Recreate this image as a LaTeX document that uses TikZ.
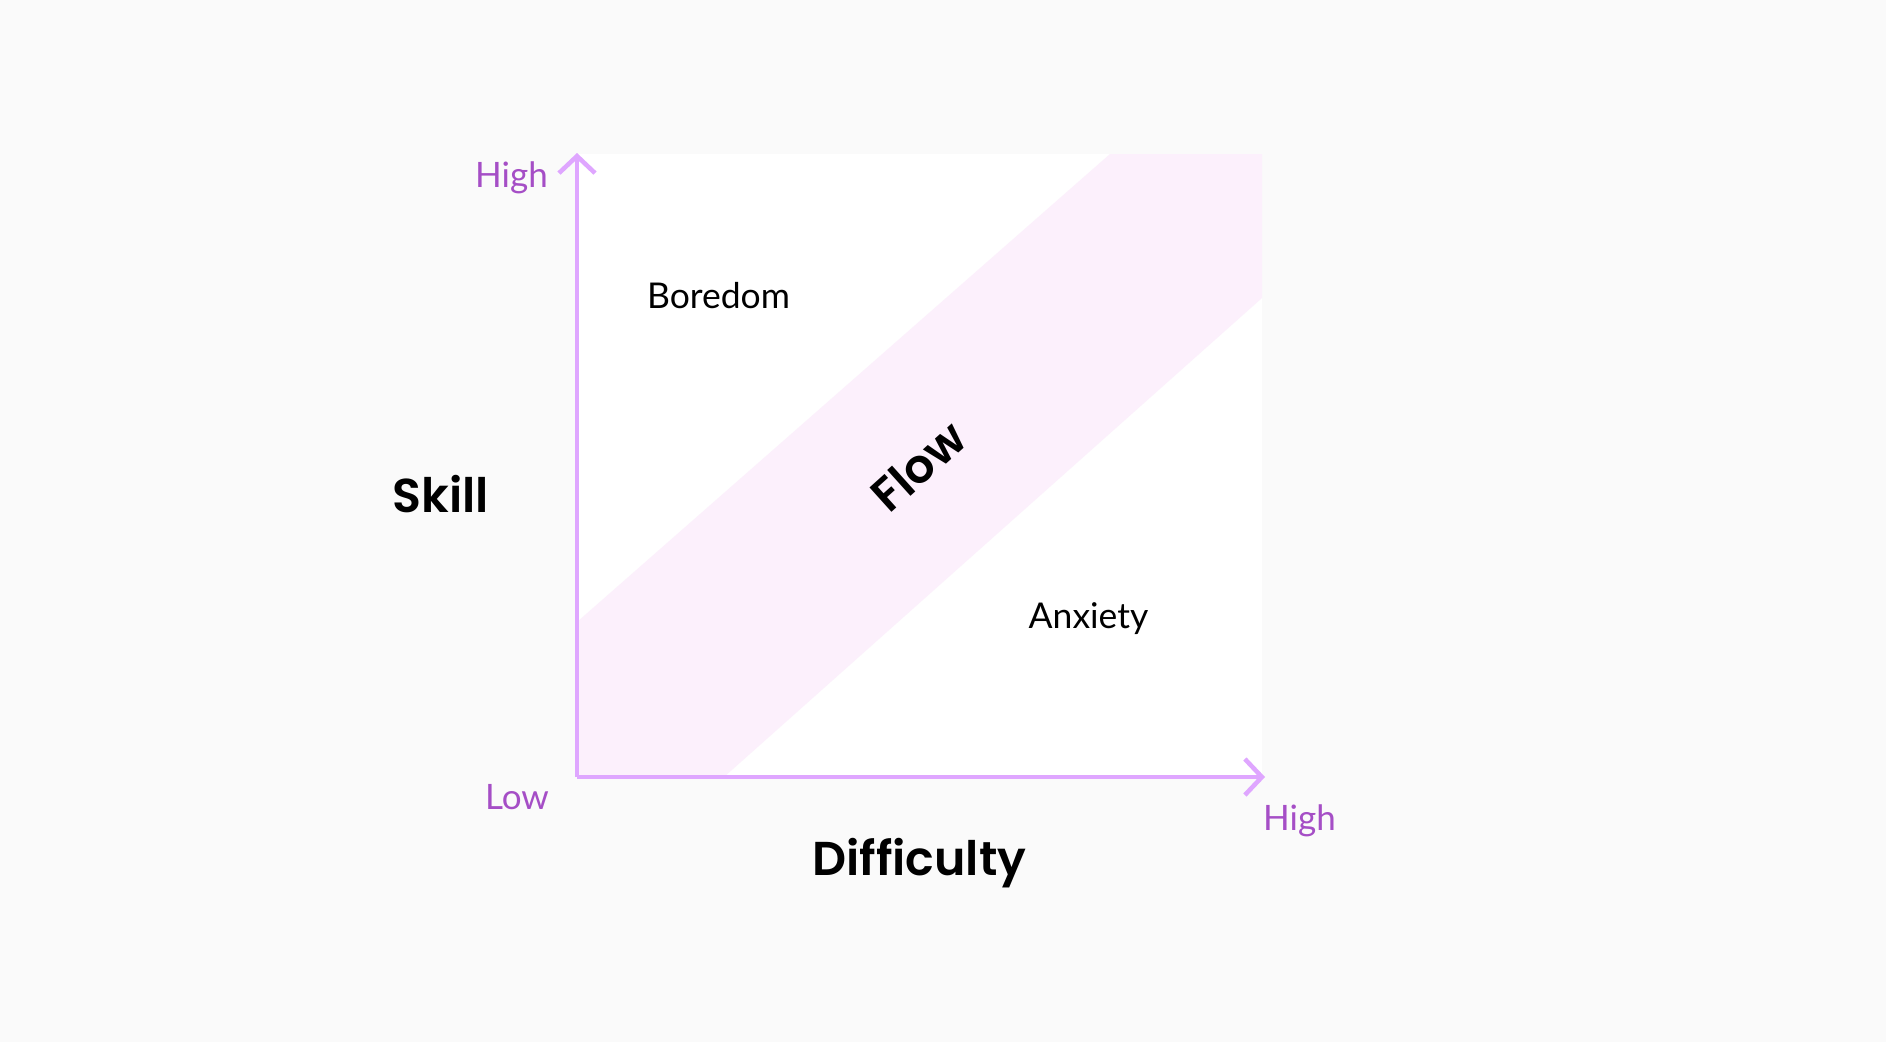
\documentclass[tikz,border=0pt]{standalone}
\usepackage{fontspec}
\usetikzlibrary{arrows.meta}
\newfontfamily\latofont{Lato}
\newfontfamily\popfont{Poppins}[BoldFont={Poppins SemiBold}]
\definecolor{bgc}{HTML}{FAFAFA}
\definecolor{bandc}{HTML}{FCF0FC}
\definecolor{axisc}{HTML}{DFA6FF}
\definecolor{labc}{HTML}{A54EC6}
\begin{document}
\begin{tikzpicture}[x=1pt,y=-1pt,
  axisline/.style={draw=axisc,line width=4.5pt,-{Straight Barb[length=17pt,width=36pt,line width=4.5pt]}},
  ticklab/.style={inner sep=0pt,anchor=base,text=labc,font=\latofont\fontsize{35}{40}\selectfont},
  zonelab/.style={inner sep=0pt,anchor=base,text=black,font=\latofont\fontsize{35.5}{40}\selectfont},
  axislab/.style={inner sep=0pt,anchor=base,text=black,font=\popfont\bfseries\fontsize{47.5}{52}\selectfont}]
\fill[bgc] (0,0) rectangle (1886,1042);
\useasboundingbox (0,0) rectangle (1886,1042);
\coordinate (O) at (577,777);
\coordinate (Ytip) at (577,153);
\coordinate (Xtip) at (1265,777);
\fill[white] (577,154) rectangle (1262,777);
\fill[bandc] (577,622) -- (1110,154) -- (1262,154) -- (1262,298) -- (724,777) -- (577,777) -- cycle;
\draw[axisline] (O) -- (Ytip);
\draw[axisline] (O) -- (Xtip);
\node[ticklab] (yhigh) at (511.5,187) {High};
\node[ticklab] (xlow) at (517,809) {Low};
\node[ticklab] (xhigh) at (1299.5,830) {High};
\node[zonelab] (bored) at (718.5,308) {Boredom};
\node[zonelab] (anx) at (1088.5,628) {Anxiety};
\node[axislab] (skill) at (441,512) {Skill};
\node[axislab] (diff) at (919.5,875) {Difficulty};
\node[inner sep=0pt,text=black,font=\popfont\bfseries\fontsize{47}{52}\selectfont,rotate=42] (flow) at (918,466) {Flow};
\end{tikzpicture}
\end{document}
